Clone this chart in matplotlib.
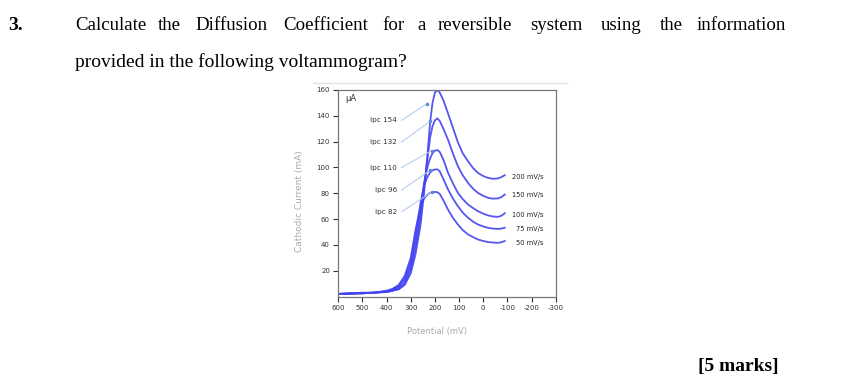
import matplotlib
matplotlib.use('Agg')
import matplotlib.pyplot as plt

# ---- data ----
potential = [600, 550, 500, 450, 400, 375, 350, 325, 300, 280, 260, 245, 230, 220, 210,
             200, 190, 180, 165, 146, 125, 105, 85, 63, 42, 22, 0, -20, -40, -61, -75, -89]

i_200 = [2, 2.5, 2.5, 3, 3.5, 4.5, 5.5, 9, 18, 33, 55, 80, 112, 135, 150,
         158, 160, 158, 152, 142, 130.5, 119.5, 111, 104.8, 99.5, 95.8, 93.3, 91.9, 91.2, 91.5, 92.5, 94]
i_150 = [2, 2, 2.5, 3, 3.5, 4.5, 6, 10, 21, 38, 61, 85, 108, 123, 132,
         136.5, 138, 136, 130, 121.6, 110.5, 101, 94, 88, 83.5, 80.3, 78, 76.4, 75.8, 76, 77, 79]
i_100 = [2, 2.5, 2.5, 3, 4, 5, 7, 12, 24, 43, 67, 88, 101, 107, 111,
         113, 113.5, 112, 106, 96, 87.5, 80.3, 75.5, 71.3, 68.5, 66.1, 64.2, 62.8, 62, 61.7, 62.5, 64.5]
i_75 = [2, 2, 3, 3, 4, 5.5, 8, 14, 27, 48, 72, 86, 93, 96, 97.8,
        98.4, 98.5, 97, 91, 83, 75.8, 70, 65, 61, 58, 55.8, 54.3, 53.2, 52.6, 52.4, 52.6, 53.3]
i_50 = [2, 2.5, 2.5, 3, 4.5, 6, 9, 16, 30, 52, 69, 76, 79, 80.3, 80.8,
        81, 80.8, 79.5, 74.5, 67.4, 60.8, 55.8, 51.5, 48.1, 46, 44.2, 43, 42.2, 41.8, 41.6, 42, 43]

rate_labels = ['200 mV/s', '150 mV/s', '100 mV/s', '75 mV/s', '50 mV/s']
rate_label_y = [92.7, 78.5, 63, 52.2, 41.1]

ipc_labels = ['Ipc 154', 'Ipc 132', 'Ipc 110', 'Ipc 96', 'Ipc 82']
ipc_text_y = [136.5, 119.7, 99.9, 82.4, 65.6]
ipc_point_x = [232, 220, 213, 220, 213]
ipc_point_y = [149.5, 135.7, 113.1, 97.8, 81]

x_ticks = [600, 500, 400, 300, 200, 100, 0, -100, -200, -300]
y_ticks = [20, 40, 60, 80, 100, 120, 140, 160]

W, H = 846, 386
fig = plt.figure(figsize=(W / 100, H / 100), dpi=100)
fig.patch.set_facecolor('white')


def px(x, y):
    return x / W, 1 - y / H


serif = 'Liberation Serif'

# question text (first line justified, so words placed one by one)
fig.text(*px(8, 25), '3.', fontsize=14, fontweight='bold', family=serif, va='center')
words = ['Calculate', 'the', 'Diffusion', 'Coefficient', 'for', 'a', 'reversible',
         'system', 'using', 'the', 'information']
word_x = [75, 158, 195.5, 283, 382, 417, 438, 530.5, 600.5, 659.5, 697]
for w, x in zip(words, word_x):
    fig.text(*px(x, 25), w, fontsize=13.6, family=serif, va='center')
fig.text(*px(75, 62), 'provided in the following voltammogram?', fontsize=14,
         family=serif, va='center')
fig.text(*px(698, 367), '[5 marks]', fontsize=14, fontweight='bold', family=serif,
         va='center')

# faint line at top of the embedded picture
fig.add_artist(plt.Line2D([313 / W, 567 / W], [1 - 83 / H, 1 - 83 / H],
                          color='#e4e4e4', lw=1))

ax = fig.add_axes([338.3 / W, 1 - 296.5 / H, 217.4 / W, 206.5 / H])
blue = '#4444f0'
for cur in [i_200, i_150, i_100, i_75, i_50]:
    ax.plot(potential, cur, color=blue, lw=1.3, alpha=0.9, solid_joinstyle='round')

for lab, y in zip(rate_labels, rate_label_y):
    ax.text(-250, y, lab, fontsize=4.8, ha='right', va='center', color='#222222')

for lab, ty, qx, qy in zip(ipc_labels, ipc_text_y, ipc_point_x, ipc_point_y):
    ax.plot([338, qx], [ty, qy], color='#b5cdef', lw=0.8)
    ax.plot(qx, qy, 'o', ms=1.5, color='#5a8ad8')
    ax.text(358, ty, lab, fontsize=5.2, ha='right', va='center', color='#333333')

ax.text(0.03, 0.96, 'µA', transform=ax.transAxes, fontsize=6, va='center',
        color='#333333')

ax.set_xlim(600, -300)
ax.set_ylim(0, 160)
ax.set_xticks(x_ticks)
ax.set_xticklabels([str(v) for v in x_ticks])
ax.set_yticks(y_ticks)
ax.tick_params(labelsize=5, colors='#333333', length=3.5, width=0.8, pad=2.5)
for sp in ax.spines.values():
    sp.set_color('#777777')
    sp.set_linewidth(0.9)

ax.set_xlabel('Potential (mV)', fontsize=6, color='#aaaaaa')
ax.xaxis.set_label_coords(0.454, -0.148)
ax.set_ylabel('Cathodic Current (mA)', fontsize=6.5, color='#aaaaaa')
ax.yaxis.set_label_coords(-0.16, 0.46)

fig.savefig('out.png', dpi=100)
